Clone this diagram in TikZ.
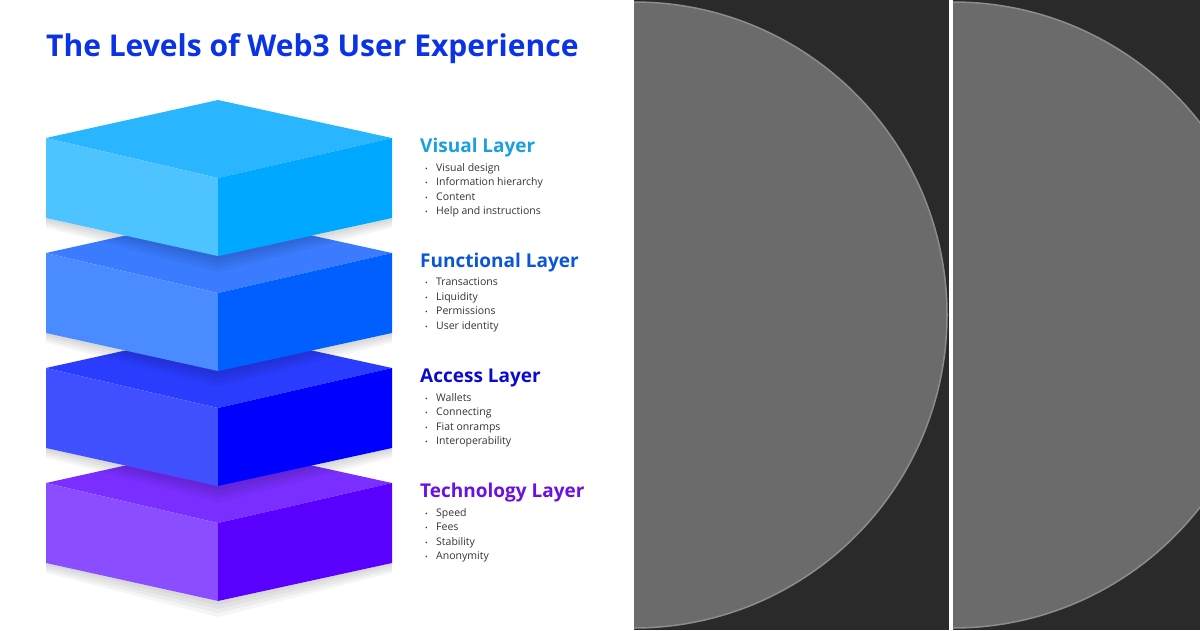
\documentclass[tikz,border=0pt]{standalone}
\usepackage{fontspec}
\setmainfont{Open Sans}
\usepackage{xcolor}
\usetikzlibrary{calc}
\definecolor{titleblue}{HTML}{0A32E6}
\definecolor{darkbg}{HTML}{2A2A2A}
\definecolor{moon}{HTML}{6B6B6B}
\definecolor{techtop}{HTML}{7A2EFF}\definecolor{techleft}{HTML}{8A4DFF}\definecolor{techright}{HTML}{5A00FF}
\definecolor{acctop}{HTML}{2A3DFF}\definecolor{accleft}{HTML}{4050FF}\definecolor{accright}{HTML}{0000FF}
\definecolor{functop}{HTML}{3A7BFF}\definecolor{funcleft}{HTML}{4A8BFF}\definecolor{funcright}{HTML}{0060FF}
\definecolor{vistop}{HTML}{29B6FF}\definecolor{visleft}{HTML}{4DC3FF}\definecolor{visright}{HTML}{00A8FF}
\tikzset{
  heading/.style={anchor=west,inner sep=0pt,font=\bfseries\fontsize{19}{22}\selectfont},
  bullets/.style={anchor=north west,inner sep=0pt,align=left,font=\fontsize{10.5}{14.5}\selectfont,text=black!80},
}
\newcommand{\bul}{\makebox[11pt][l]{\scriptsize\textbullet}}
% one slab: #1 top y, #2 top, #3 left, #4 right colour
\newcommand{\slab}[4]{
  \foreach \s in {4,8,12,16}
    \fill[black,opacity=0.04] (46,#1+118) -- (218,#1+156) -- (392,#1+118) -- (392,#1+118+\s*0.6) -- (218,#1+156+\s) -- (46,#1+118+\s*0.6) -- cycle;
  \fill[#2] (218,#1) -- (392,#1+38) -- (218,#1+78) -- (46,#1+38) -- cycle;
  \fill[#3] (46,#1+38) -- (218,#1+78) -- (218,#1+156) -- (46,#1+118) -- cycle;
  \fill[#4] (218,#1+78) -- (392,#1+38) -- (392,#1+118) -- (218,#1+156) -- cycle;
}
\begin{document}
\begin{tikzpicture}[x=1pt,y=1pt,yscale=-1]
  \useasboundingbox (0,0) rectangle (1200,630);

  %right panel
  \fill[darkbg] (634,0) rectangle (1200,630);
  \begin{scope}
    \clip (634,0) rectangle (949,630);
    \fill[moon,draw=black!45,line width=1.5pt] (634,315) circle (313);
  \end{scope}
  \begin{scope}
    \clip (953,0) rectangle (1200,630);
    \fill[moon,draw=black!45,line width=1.5pt] (953,315) circle (313);
  \end{scope}
  \fill[white] (949,0) rectangle (953,630);

  % Title
  \node[anchor=west,inner sep=0pt,text=titleblue,font=\bfseries\fontsize{30}{34}\selectfont] (title) at (46,49) {The Levels of Web3 User Experience};

  %slabs, bottom first
  \slab{445}{techtop}{techleft}{techright}
  \slab{330}{acctop}{accleft}{accright}
  \slab{215}{functop}{funcleft}{funcright}
  \slab{100}{vistop}{visleft}{visright}

  % Text Nodes
  \node[heading,text={rgb,255:red,26;green,159;blue,224}] (visual) at (420,148) {Visual Layer};
  \node[bullets] (visuallist) at (425,163) {\bul Visual design\\\bul Information hierarchy\\\bul Content\\\bul Help and instructions};
  \node[heading,text={rgb,255:red,10;green,85;blue,217}] (functional) at (420,263) {Functional Layer};
  \node[bullets] (functionallist) at (425,278) {\bul Transactions\\\bul Liquidity\\\bul Permissions\\\bul User identity};
  \node[heading,text={rgb,255:red,10;green,10;blue,208}] (access) at (420,378) {Access Layer};
  \node[bullets] (accesslist) at (425,393) {\bul Wallets\\\bul Connecting\\\bul Fiat onramps\\\bul Interoperability};
  \node[heading,text={rgb,255:red,106;green,16;blue,224}] (technology) at (420,493) {Technology Layer};
  \node[bullets] (technologylist) at (425,508) {\bul Speed\\\bul Fees\\\bul Stability\\\bul Anonymity};
\end{tikzpicture}
\end{document}
